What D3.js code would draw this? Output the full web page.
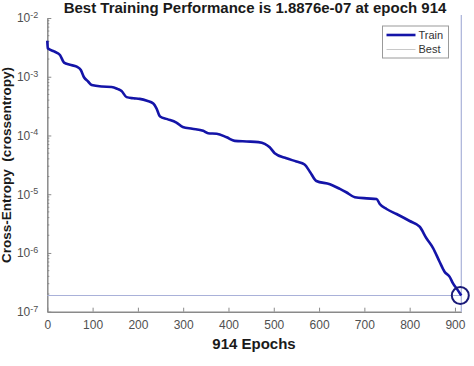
<!DOCTYPE html>
<html>
<head>
<meta charset="utf-8">
<script src="https://cdn.jsdelivr.net/npm/d3@7"></script>
<style>
  body { margin: 0; background: #fff; }
  svg { display: block; font-family: "Liberation Sans", Arial, sans-serif; }
</style>
</head>
<body>
<div id="chart"></div>
<script>
// training curve
const epochs = [0, 1, 15, 28, 37, 50, 65, 74, 81, 90, 98, 120, 142, 155, 164, 175, 190, 204, 220, 234,
  241, 249, 265, 285, 299, 320, 344, 355, 374, 396, 414, 440, 466, 480, 491, 502, 528, 550, 568, 580,
  594, 624, 646, 660, 679, 705, 727, 734, 749, 771, 800, 822, 837, 852, 866, 877, 888, 896, 905, 914];
const trainPerf = [4.1e-3, 3.05e-3, 2.7e-3, 2.34e-3, 1.74e-3, 1.6e-3, 1.48e-3, 1.3e-3, 9.8e-4, 8.3e-4,
  7.2e-4, 6.8e-4, 6.7e-4, 6.2e-4, 5.7e-4, 4.5e-4, 4.3e-4, 4.2e-4, 3.9e-4, 3.5e-4,
  2.9e-4, 2.1e-4, 1.9e-4, 1.66e-4, 1.39e-4, 1.3e-4, 1.2e-4, 1.09e-4, 1.07e-4, 9.3e-5,
  8.1e-5, 7.9e-5, 7.7e-5, 7.2e-5, 6.3e-5, 5.0e-5, 4.1e-5, 3.6e-5, 3.2e-5, 2.4e-5,
  1.68e-5, 1.48e-5, 1.23e-5, 1.08e-5, 8.9e-6, 8.5e-6, 8.3e-6, 6.8e-6, 5.6e-6, 4.6e-6,
  3.5e-6, 2.8e-6, 1.78e-6, 1.2e-6, 7.1e-7, 4.8e-7, 3.96e-7, 3.0e-7, 2.4e-7, 1.8876e-7];
const bestEpoch = 914;
const bestPerf = 1.8876e-7;
const xTicks = [0, 100, 200, 300, 400, 500, 600, 700, 800, 900];
const yExponents = [-7, -6, -5, -4, -3, -2];
const legendLabels = ['Train', 'Best'];

const width = 474, height = 366;
const svg = d3.select('#chart').append('svg')
  .attr('width', width)
  .attr('height', height);

const x = d3.scaleLinear().domain([0, 914]).range([47.3, 461.3]);
const y = d3.scaleLog().domain([1e-7, 1e-2]).range([311.7, 18]);

const axisColor = '#8a8a8a';
const labelColor = '#505050';

// title
svg.append('text')
  .attr('x', 255).attr('y', 13)
  .attr('text-anchor', 'middle')
  .style('font-size', '15px').style('font-weight', 'bold').style('fill', '#1a1a1a')
  .text('Best Training Performance is 1.8876e-07 at epoch 914');

// y axis
const yAxis = svg.append('g')
  .attr('transform', `translate(${x.range()[0]},0)`)
  .call(d3.axisLeft(y)
    .tickValues(yExponents.map(e => Math.pow(10, e)))
    .tickSize(-4).tickSizeOuter(0).tickPadding(9)
    .tickFormat(''));
yAxis.selectAll('.tick text').each(function(d) {
  const t = d3.select(this);
  t.append('tspan').text('10');
  t.append('tspan').attr('dy', '-0.5em').style('font-size', '9px')
    .text(Math.round(Math.log10(d)));
});
yAxis.selectAll('.tick text').style('font-size', '12px').style('fill', labelColor);

// minor log ticks
const minor = [];
yExponents.slice(0, -1).forEach(e => { for (let k = 2; k <= 9; k++) minor.push(k * Math.pow(10, e)); });
svg.append('g').selectAll('line').data(minor).join('line')
  .attr('x1', x.range()[0]).attr('x2', x.range()[0] + 2)
  .attr('y1', d => y(d)).attr('y2', d => y(d))
  .attr('stroke', axisColor);

// x axis
const xAxis = svg.append('g')
  .attr('transform', `translate(0,${y.range()[0]})`)
  .call(d3.axisBottom(x).tickValues(xTicks).tickSize(-4).tickSizeOuter(0).tickPadding(9));
xAxis.selectAll('.tick text').style('font-size', '12px').style('fill', labelColor);

[yAxis, xAxis].forEach(g => {
  g.select('.domain').attr('stroke', axisColor).attr('stroke-width', 1.5);
  g.selectAll('.tick line').attr('stroke', axisColor);
});

// axis labels
svg.append('text')
  .attr('x', 254).attr('y', 349)
  .attr('text-anchor', 'middle')
  .style('font-size', '15px').style('font-weight', 'bold').style('fill', '#1a1a1a')
  .text(`${bestEpoch} Epochs`);

svg.append('text')
  .attr('transform', 'translate(11,165) rotate(-90)')
  .attr('text-anchor', 'middle')
  .style('font-size', '13.5px').style('font-weight', 'bold').style('fill', '#1a1a1a')
  .style('white-space', 'pre')
  .text('Cross-Entropy  (crossentropy)');

// best lines
const bestColor = '#a9b1d9';
svg.append('line')
  .attr('x1', x(0)).attr('x2', x(bestEpoch))
  .attr('y1', y(bestPerf)).attr('y2', y(bestPerf))
  .attr('stroke', bestColor).attr('stroke-width', 1.2);
svg.append('line')
  .attr('x1', x(bestEpoch)).attr('x2', x(bestEpoch))
  .attr('y1', y.range()[1] - 3).attr('y2', y.range()[0])
  .attr('stroke', bestColor).attr('stroke-width', 1.2);

// train line
const train = epochs.map((e, i) => [e, trainPerf[i]]);
svg.append('path')
  .datum(train)
  .attr('fill', 'none')
  .attr('stroke', '#1414a8')
  .attr('stroke-width', 2.6)
  .attr('stroke-linejoin', 'round')
  .attr('d', d3.line().x(d => x(d[0])).y(d => y(d[1])).curve(d3.curveMonotoneX));

// best marker
svg.append('circle')
  .attr('cx', x(bestEpoch) - 1).attr('cy', y(bestPerf))
  .attr('r', 8.5)
  .attr('fill', 'none').attr('stroke', '#1a1a78').attr('stroke-width', 2);

// legend
const lg = svg.append('g').attr('transform', 'translate(382.5,26)');
lg.append('rect').attr('width', 66).attr('height', 32)
  .attr('fill', '#fff').attr('stroke', '#9a9a9a');
lg.selectAll('line').data(legendLabels).join('line')
  .attr('x1', 4).attr('x2', 33)
  .attr('y1', (d, i) => 9 + i * 14.5).attr('y2', (d, i) => 9 + i * 14.5)
  .attr('stroke', (d, i) => i === 0 ? '#1414a8' : '#c8c8c8')
  .attr('stroke-width', (d, i) => i === 0 ? 2.6 : 1);
lg.selectAll('text').data(legendLabels).join('text')
  .attr('x', 36).attr('y', (d, i) => 9 + i * 14.5)
  .attr('dy', '0.35em')
  .style('font-size', '11px').style('fill', '#333')
  .text(d => d);
</script>
</body>
</html>
